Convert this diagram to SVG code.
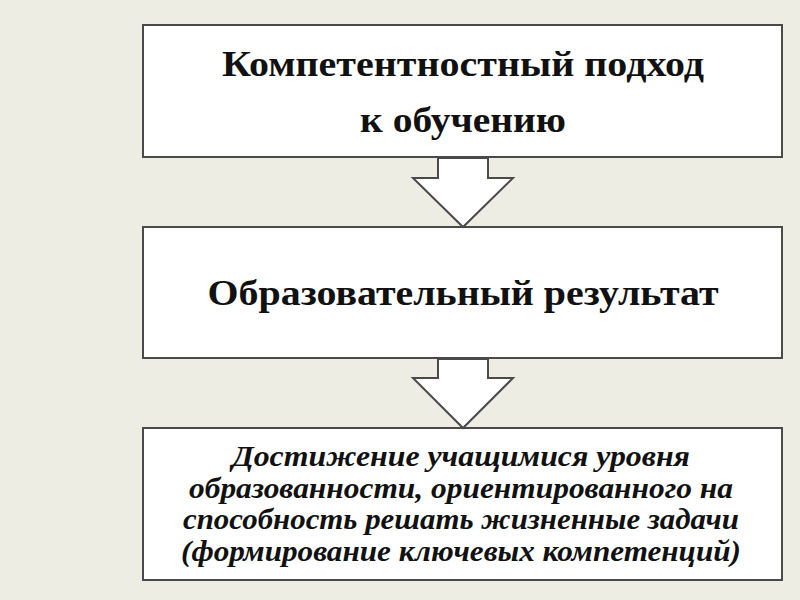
<svg xmlns="http://www.w3.org/2000/svg" width="800" height="600" viewBox="0 0 800 600">
<style>
.box{fill:#fff;stroke:#4a4a4a;stroke-width:2}
.arr{fill:#fff;stroke:#4a4a4a;stroke-width:2}
.t{font-family:"Liberation Serif",serif;font-weight:bold;font-size:36px;fill:#111;text-anchor:middle}
.i{font-family:"Liberation Serif",serif;font-weight:bold;font-style:italic;font-size:29px;fill:#111;text-anchor:middle}
</style>
<rect width="800" height="600" fill="#EEEDE3"/>
<g id="n1"><rect class="box" x="143" y="25" width="639" height="132"/>
<text class="t" x="463" y="76" textLength="482" lengthAdjust="spacingAndGlyphs">Компетентностный подход</text>
<text class="t" x="463" y="132" textLength="206" lengthAdjust="spacingAndGlyphs">к обучению</text></g>
<g id="n2"><rect class="box" x="143" y="227" width="639" height="131"/>
<text class="t" x="463" y="305" textLength="511" lengthAdjust="spacingAndGlyphs">Образовательный результат</text></g>
<g id="n3"><rect class="box" x="143" y="428" width="639" height="152"/>
<text class="i" x="461" y="466" textLength="458" lengthAdjust="spacingAndGlyphs">Достижение учащимися уровня</text>
<text class="i" x="461" y="498" textLength="544" lengthAdjust="spacingAndGlyphs">образованности, ориентированного на</text>
<text class="i" x="461" y="529" textLength="556" lengthAdjust="spacingAndGlyphs">способность решать жизненные задачи</text>
<text class="i" x="461" y="561" textLength="560" lengthAdjust="spacingAndGlyphs">(формирование ключевых компетенций)</text></g>
<g id="connectors">
<path class="arr" d="M438 158 L488 158 L488 178 L513 178 L463 227 L413 178 L438 178 Z"/>
<path class="arr" d="M438 359 L488 359 L488 378 L513 378 L463 428 L413 378 L438 378 Z"/>
</g>
</svg>
